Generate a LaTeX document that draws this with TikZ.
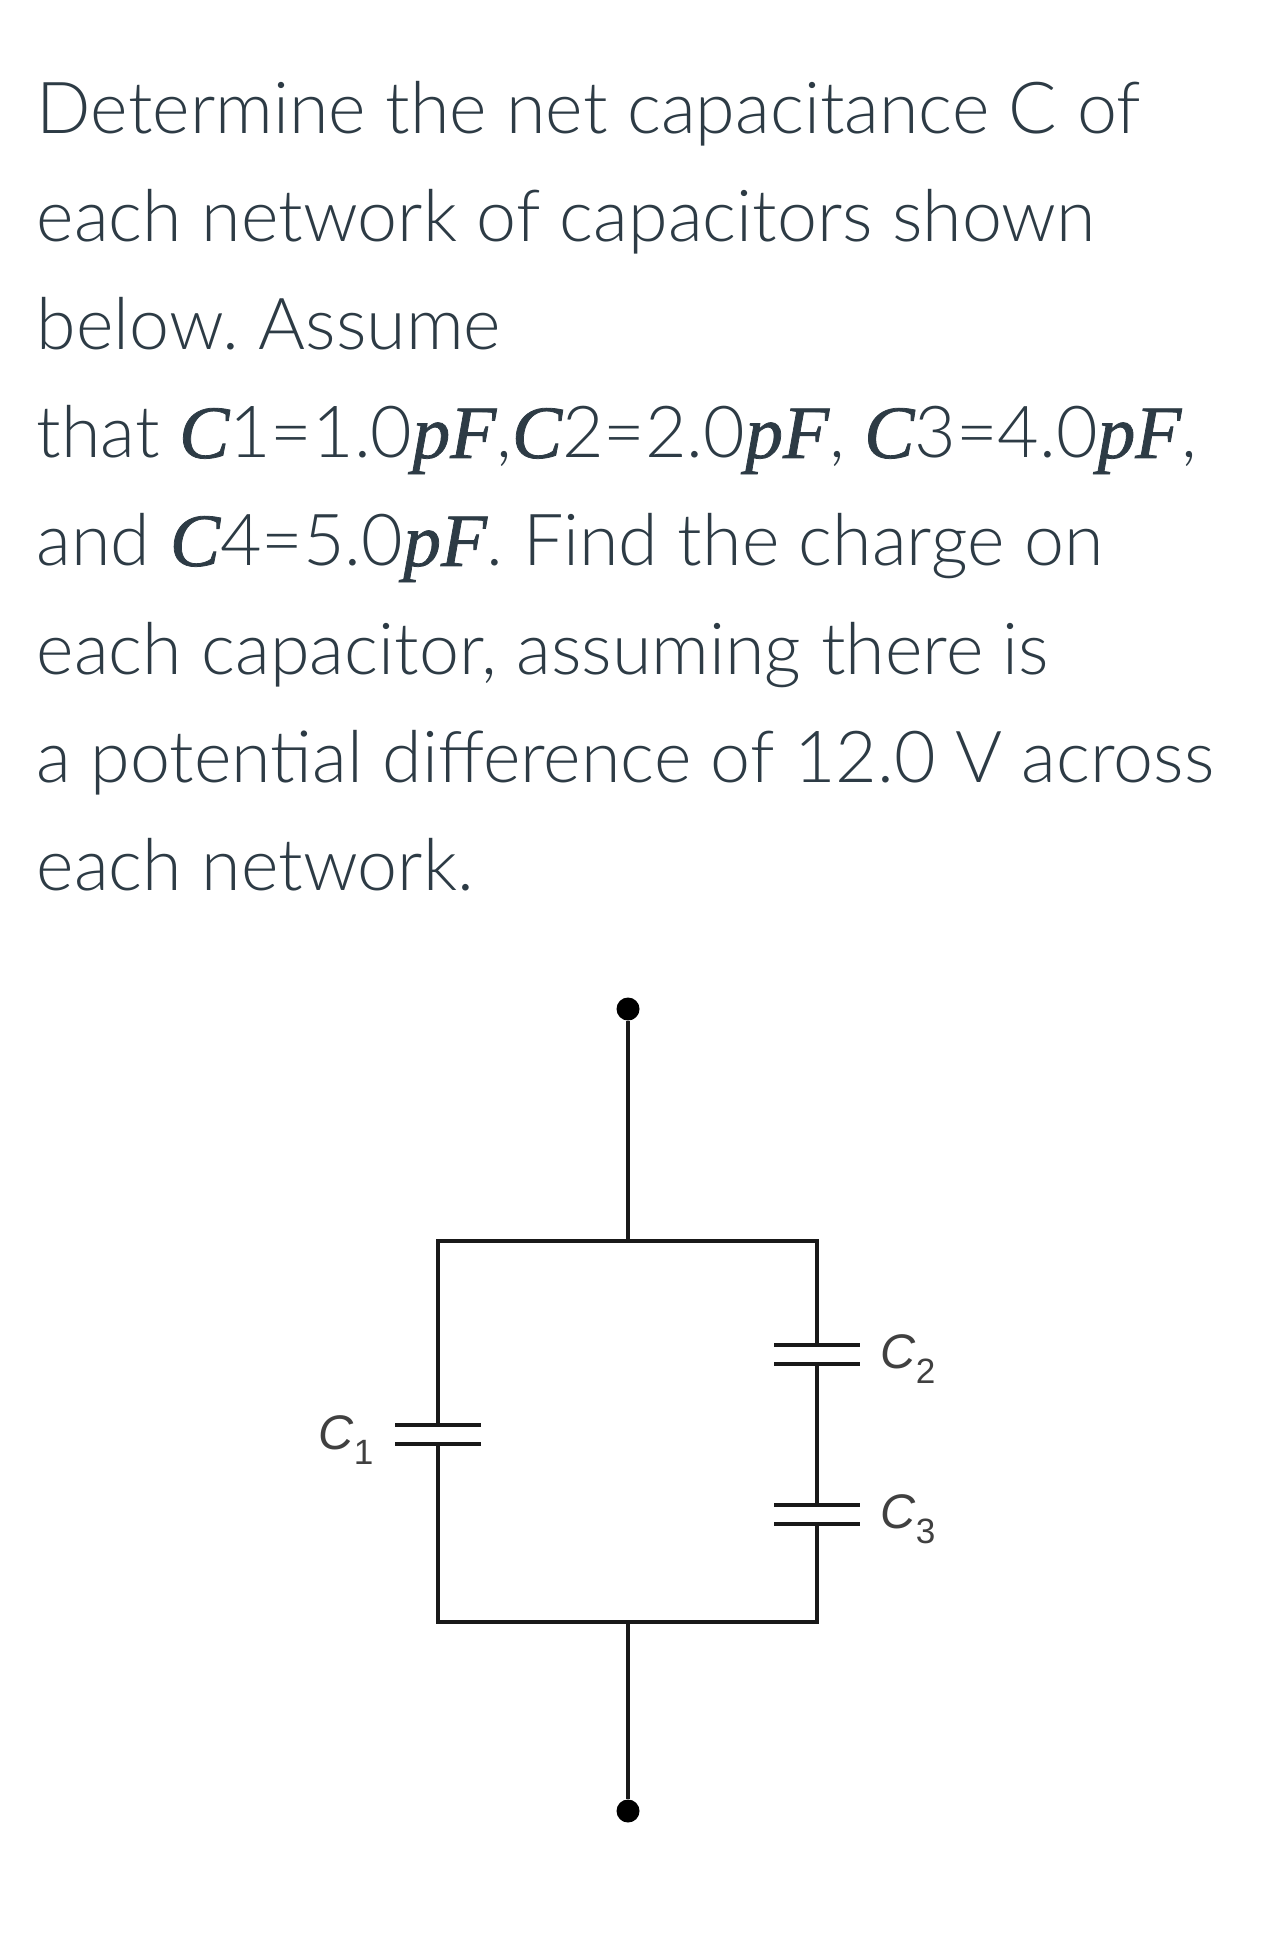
\documentclass[tikz,border=0pt]{standalone}
\usepackage{fontspec}
\setmainfont{Lato}[UprightFont=* Light]
\setsansfont{Liberation Sans}
\newfontfamily\symfont{Liberation Serif}[UprightFont=*/I, Scale=1.05, FakeBold=1]
\definecolor{inkslate}{HTML}{2D3B45}
\usetikzlibrary{positioning,calc}
\newcommand{\symb}[1]{{\symfont #1}}
\newcommand{\capsub}[1]{\raisebox{-4.3pt}{\upshape\fontsize{10pt}{12pt}\selectfont #1}}
\frenchspacing
\tikzset{
	textline/.style={anchor=base west, inner sep=0pt, text=inkslate, font=\fontsize{20.4pt}{24pt}\selectfont},
	wire/.style={line width=1.4pt, black!90},
	plate/.style={line width=1.4pt, black!90},
	terminal/.style={circle, fill=black, inner sep=0pt, minimum size=0.23cm},
	caplabel/.style={inner sep=0pt, text=black!75, font=\sffamily\itshape\fontsize{13.8pt}{16pt}\selectfont}
}

\begin{document}
\begin{tikzpicture}[x=0.01cm, y=-0.01cm]
	\useasboundingbox (0,0) rectangle (1284,1949);

	% Problem text
	\node[textline] (line1) at (36,134) {Determine the net capacitance C of};
	\node[textline] (line2) at (36,242) {each network of capacitors shown};
	\node[textline] (line3) at (36,350) {below. Assume};
	\node[textline] (line4) at (36,458) {that \symb{C}1=1.0\symb{pF},\symb{C}2=2.0\symb{pF}, \symb{C}3=4.0\symb{pF},};
	\node[textline] (line5) at (36,566) {and \symb{C}4=5.0\symb{pF}. Find the charge on};
	\node[textline] (line6) at (36,674) {each capacitor, assuming there is};
	\node[textline] (line7) at (36,782) {a potential difference of 12.0 V across};
	\node[textline] (line8) at (36,890) {each network.};

	% Terminals and corners
	\node[terminal] (top) at (628,1009) {};
	\node[terminal] (bottom) at (628,1811) {};
	\coordinate (topmid) at (628,1241);
	\coordinate (botmid) at (628,1622);
	\coordinate (tl) at (438,1241);
	\coordinate (tr) at (817,1241);
	\coordinate (bl) at (438,1622);
	\coordinate (br) at (817,1622);

	% Plates of the capacitors
	\coordinate (c1a) at (438,1425);
	\coordinate (c1b) at (438,1444);
	\coordinate (c2a) at (817,1345);
	\coordinate (c2b) at (817,1364);
	\coordinate (c3a) at (817,1505);
	\coordinate (c3b) at (817,1524);
	\foreach \p in {c1a,c1b,c2a,c2b,c3a,c3b}
		\draw[plate] ($(\p)+(-43,0)$) -- ($(\p)+(43,0)$);

	% Wires
	\draw[wire] (top) -- (topmid);
	\draw[wire] (bottom) -- (botmid);
	\draw[wire] (c1a) -- (tl) -- (tr) -- (c2a);
	\draw[wire] (c2b) -- (c3a);
	\draw[wire] (c3b) -- (br) -- (bl) -- (c1b);

	% Labels
	\node[caplabel, anchor=base west] (c1) at (318,1449) {C\capsub{1}};
	\node[caplabel, anchor=base west] (c2) at (880,1368) {C\capsub{2}};
	\node[caplabel, anchor=base west] (c3) at (880,1528) {C\capsub{3}};
\end{tikzpicture}
\end{document}
